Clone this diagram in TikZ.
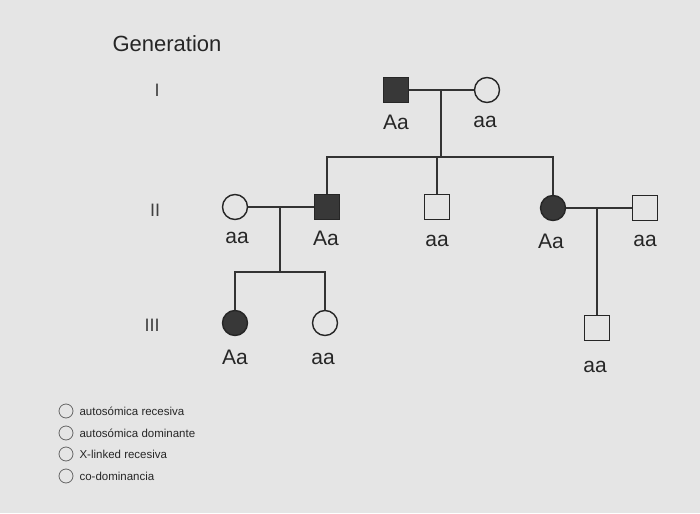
\documentclass[tikz,border=0pt]{standalone}
\usepackage{fontspec}
\setmainfont{Liberation Sans}
\begin{document}
\begin{tikzpicture}[x=1pt,y=-1pt,
  sq/.style={draw=black!85,line width=1.4pt,minimum size=25pt,inner sep=0pt},
  ci/.style={circle,draw=black!85,line width=1.4pt,minimum size=25pt,inner sep=0pt},
  aff/.style={fill=black!78},
  lab/.style={font=\fontsize{21}{21}\selectfont,text=black!85},
  gen/.style={font=\fontsize{18}{18}\selectfont,text=black!75},
  opt/.style={circle,draw=black!60,line width=0.8pt,minimum size=14pt,inner sep=0pt},
  optt/.style={anchor=west,font=\fontsize{11.5}{12}\selectfont,text=black!85},
  ln/.style={line width=1.2pt,draw=black!80}]
\fill[black!10] (0,0) rectangle (700,513);
\node[font=\fontsize{22}{22}\selectfont,text=black!85] (g) at (167,44) {Generation};
\node[gen] (g1) at (157,90) {I};
\node[gen] (g2) at (155,210) {II};
\node[gen] (g3) at (152,325) {III};
% Gen I
\node[sq,aff] (a1) at (396,90) {};
\node[ci] (a2) at (487,90) {};
\node[lab] at (396,122) {Aa};
\node[lab] at (485,122) {aa};
\draw[ln] (a1.east) -- (a2.west);
\coordinate (m1) at (441,90);
\coordinate (s1) at (441,157);
\draw[ln] (m1) -- (s1);
% Gen II
\node[ci] (b1) at (235,207) {};
\node[sq,aff] (b2) at (327,207) {};
\node[sq] (b3) at (437,207) {};
\node[ci,aff] (b4) at (553,208) {};
\node[sq] (b5) at (645,208) {};
\node[lab] at (237,238) {aa};
\node[lab] at (326,238) {Aa};
\node[lab] at (437,241) {aa};
\node[lab] at (551,241) {Aa};
\node[lab] at (645,241) {aa};
\draw[ln] (b2.north) |- (s1) -| (b4.north);
\draw[ln] (b3.north) -- (b3.north |- s1);
\draw[ln] (b1.east) -- (b2.west);
\draw[ln] (b4.east) -- (b5.west);
% Gen III
\node[ci,aff] (c1) at (235,323) {};
\node[ci] (c2) at (325,323) {};
\node[sq] (c3) at (597,328) {};
\node[lab] at (235,357) {Aa};
\node[lab] at (323,359) {aa};
\node[lab] at (595,367) {aa};
\coordinate (m2) at (280,207);
\coordinate (s2) at (280,272);
\draw[ln] (m2) -- (s2);
\draw[ln] (c1.north) |- (s2) -| (c2.north);
\coordinate (m3) at (597,208);
\draw[ln] (m3) -- (c3.north);
% options
\node[opt] (o1) at (66,411) {};
\node[opt] (o2) at (66,433) {};
\node[opt] (o3) at (66,454) {};
\node[opt] (o4) at (66,476) {};
\node[optt] at (76,411) {autosómica recesiva};
\node[optt] at (76,433) {autosómica dominante};
\node[optt] at (76,454) {X-linked recesiva};
\node[optt] at (76,476) {co-dominancia};
\end{tikzpicture}
\end{document}
